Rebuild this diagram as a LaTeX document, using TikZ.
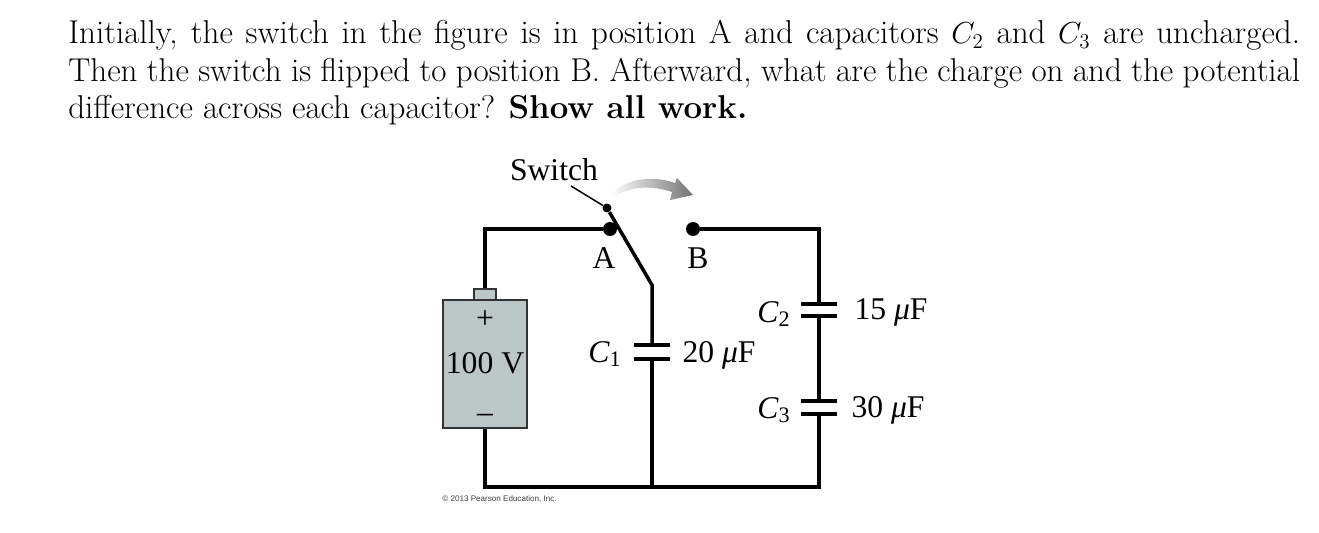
\documentclass[tikz,border=0pt]{standalone}
\usepackage{fontspec}
\newfontfamily\figfont{Liberation Serif}
\newfontfamily\smallfont{Liberation Sans}
\definecolor{battgray}{HTML}{BCC8C8}
\definecolor{edgegray}{HTML}{333333}
\tikzset{
wire/.style={line width=0.07cm,black,line join=miter},
dot/.style={shape=circle,fill=black,inner sep=0pt,minimum size=0.28cm},
plate/.style={shape=rectangle,fill=black,inner sep=0pt,minimum width=0.72cm,minimum height=0.07cm},
cell/.style={shape=rectangle,draw=edgegray,fill=battgray,line width=0.03cm,inner sep=0pt},
lbl/.style={inner sep=0pt,font=\figfont\fontsize{18}{20}\selectfont},
}
\begin{document}
\begin{tikzpicture}[x=0.02cm,y=-0.02cm]
\useasboundingbox (0,0) rectangle (1319,533);

\node[anchor=north west,inner sep=0pt,text width=24.64cm,align=justify,font=\fontsize{18.8}{21.25}\selectfont] (task) at (68,20)
{Initially, the switch in the figure is in position A and capacitors $C_2$ and $C_3$ are uncharged. Then the switch is flipped to position B. Afterward, what are the charge on and the potential difference across each capacitor? \textbf{Show all work.}};

\node[cell,minimum width=0.44cm,minimum height=0.22cm] (term) at (485,294.5) {};
\node[cell,minimum width=1.68cm,minimum height=2.56cm] (batt) at (485,364) {};
\node[dot] (a) at (610,229) {};
\node[dot] (b) at (693,229) {};
\node[dot,minimum size=0.18cm] (pivot) at (607,208) {};
\coordinate (hinge) at (652,285);
\coordinate (tag) at (571,186);
\coordinate (corner) at (819,487);
\coordinate (join) at (652,487);

\node[plate] (c1p) at (652,345) {};
\node[plate] (c1n) at (652,359) {};
\node[plate] (c2p) at (819,304) {};
\node[plate] (c2n) at (819,316) {};
\node[plate] (c3p) at (819,401) {};
\node[plate] (c3n) at (819,414) {};

\draw[wire] (term.north) |- (a);
\draw[wire] (batt.south) |- (corner) -- (c3n);
\draw[wire] (c3p) -- (c2n);
\draw[wire] (c2p) |- (b);
\draw[wire] (join) -- (c1n);
\draw[wire] (c1p) -- (hinge) -- (pivot);
\draw[line width=0.03cm] (tag) -- (pivot);

\shade[left color=white,right color=black!55] (610,196) .. controls (622,180) and (650,174) .. (675,183) -- (677,178) -- (693,195) -- (670,200) -- (672,192) .. controls (650,185) and (630,186) .. (612,198) -- cycle;

\node[lbl] (swlabel) at (554,170) {Switch};
\node[lbl] (alabel) at (604,258) {A};
\node[lbl] (blabel) at (698,258) {B};
\node[lbl] (volts) at (485,363) {100 V};
\node[lbl] (plus) at (485,320) {+};
\node[lbl] (minus) at (485,418) {–};
\node[lbl] (c1label) at (605,354) {\textit{C}\textsubscript{1}};
\node[lbl] (c2label) at (774,314) {\textit{C}\textsubscript{2}};
\node[lbl] (c3label) at (774,410) {\textit{C}\textsubscript{3}};
\node[lbl] (c1val) at (719,355) {20 \textit{μ}F};
\node[lbl] (c2val) at (891,312) {15 \textit{μ}F};
\node[lbl] (c3val) at (888,410) {30 \textit{μ}F};
\node[inner sep=0pt,anchor=west,font=\smallfont\fontsize{4.6}{6}\selectfont,text=black!75] (copy) at (442,499) {© 2013 Pearson Education, Inc.};
\end{tikzpicture}
\end{document}
